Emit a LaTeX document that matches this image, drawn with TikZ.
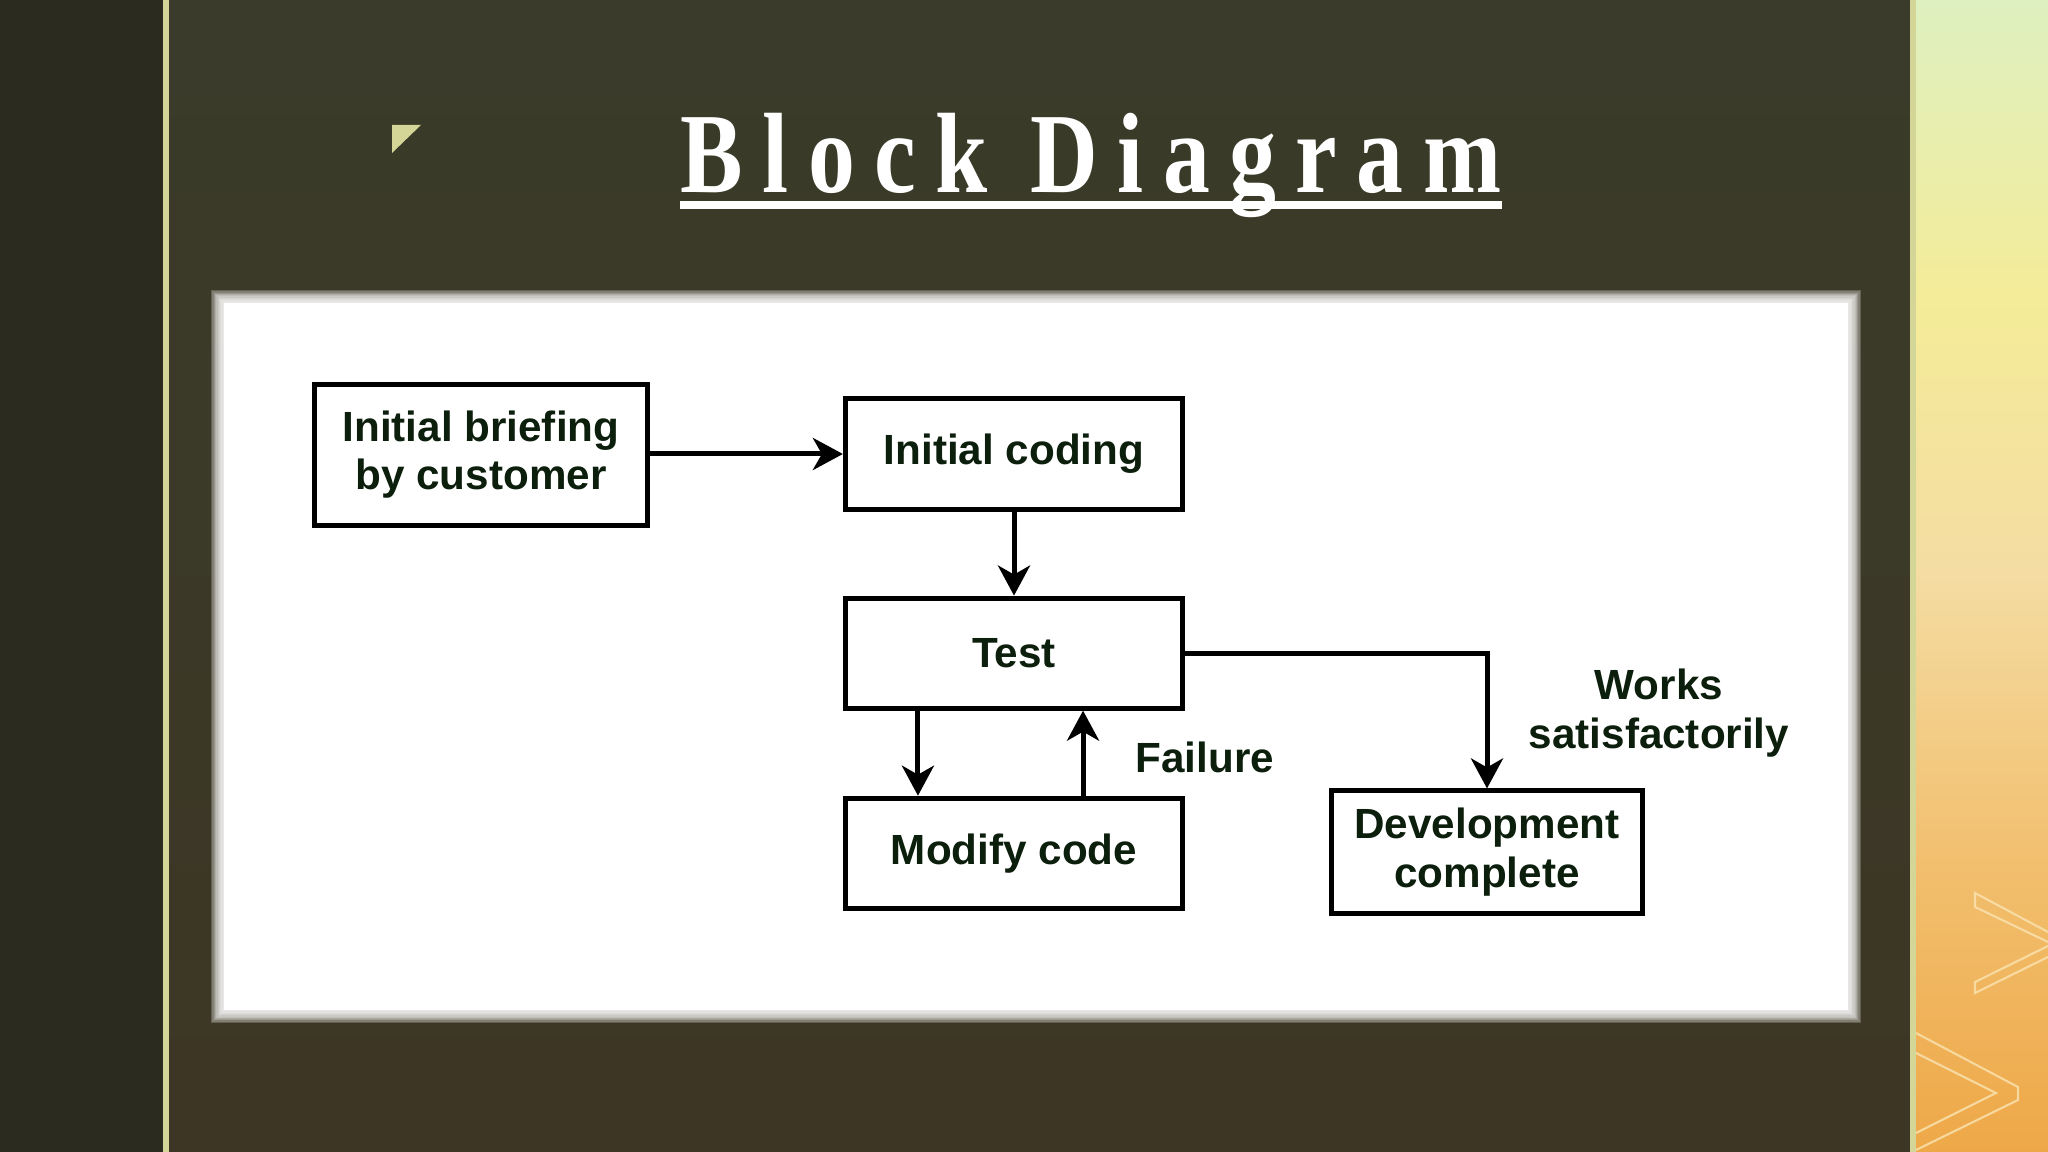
\documentclass[tikz,border=0pt]{standalone}
\usepackage{fontspec}
\setmainfont{Liberation Sans}
\newfontfamily\titlefont[FakeStretch=0.82,LetterSpace=17]{Liberation Serif}
\usepackage{xcolor}
\definecolor{bgtop}{RGB}{58,59,42}
\definecolor{bgbot}{RGB}{61,54,36}
\definecolor{bgleft}{RGB}{44,43,31}
\definecolor{accent}{RGB}{212,214,152}
\definecolor{bdtext}{RGB}{12,30,12}
\definecolor{gradA}{RGB}{222,240,192}
\definecolor{gradB}{RGB}{244,236,152}
\definecolor{gradC}{RGB}{244,220,162}
\definecolor{gradD}{RGB}{242,192,112}
\definecolor{gradE}{RGB}{238,168,72}
\definecolor{chevron}{RGB}{250,228,178}
\usetikzlibrary{arrows.meta,positioning}
\pgfdeclareverticalshading{sidegrad}{100bp}{color(0bp)=(gradE); color(25bp)=(gradE);
  color(38bp)=(gradD); color(50bp)=(gradC); color(62bp)=(gradB); color(75bp)=(gradA); color(100bp)=(gradA)}

\begin{document}
\begin{tikzpicture}[x=0.01cm,y=-0.01cm,>={Stealth[length=0.3cm,width=0.32cm,inset=0.09cm]},
  block/.style={draw=black,line width=0.05cm,fill=white,minimum width=3.37cm,minimum height=1.1cm,
                align=center,inner sep=0pt,font=\fontsize{12}{13.7}\selectfont\bfseries,text=bdtext},
  flow/.style={->,line width=0.05cm},
  lbl/.style={align=center,inner sep=0pt,font=\fontsize{12}{13.7}\selectfont\bfseries,text=bdtext}]
  \useasboundingbox (0,0) rectangle (2048,1152);
  %% Slide background
  \fill[top color=bgtop,bottom color=bgbot] (0,0) rectangle (2048,1152);
  \fill[bgleft] (0,0) rectangle (163,1152);
  \fill[accent] (163,0) rectangle (169,1152);
  \fill[shading=sidegrad] (1916,0) rectangle (2048,1152);
  \fill[accent] (1910,0) rectangle (1916,1152);
  \draw[chevron,line width=0.6pt,opacity=0.8] (2048,932) -- (1975,893) -- (1975,907) -- (2048,942);
  \draw[chevron,line width=0.6pt,opacity=0.8] (2048,946) -- (1975,982) -- (1975,993) -- (2048,957);
  \draw[chevron,line width=0.6pt,opacity=0.8] (1916,1033) -- (2018,1087) -- (2018,1100) -- (1916,1150);
  \draw[chevron,line width=0.6pt,opacity=0.8] (1916,1053) -- (1996,1093) -- (1916,1133);
  %% Title
  \fill[accent] (392,125) -- (421,125) -- (392,153) -- cycle;
  \node[anchor=base,inner sep=0pt,text=white,font=\titlefont\fontsize{32.5}{36}\selectfont\bfseries]
        (title) at (1091,193) {Block Diagram};
  \draw[white,line width=0.07cm] ([yshift=-0.12cm]title.base west) -- ([yshift=-0.12cm]title.base east);
  %% White panel with soft edge
  \foreach \d in {1,...,10}
    \fill[white,opacity=0.2] (224-1.3*\d,303-1.3*\d) rectangle (1848+1.3*\d,1010+1.3*\d);
  \fill[white] (224,303) rectangle (1848,1010);
  %% Blocks
  \node[block,minimum width=3.32cm,minimum height=1.41cm] (brief) at (481,455) {Initial briefing\\by customer};
  \node[block] (coding) at (1014,454) {Initial coding};
  \node[block,below=0.84cm of coding] (test) {Test};
  \node[block,below=0.85cm of test] (modify) {Modify code};
  \node[block,minimum width=3.11cm,minimum height=1.22cm] (dev) at (1487,852) {Development\\complete};
  %% Arrows
  \draw[flow] (brief.east |- coding.west) -- (coding.west);
  \draw[flow] (coding) -- (test);
  \draw[flow] ([xshift=-0.96cm]test.south) -- ([xshift=-0.96cm]modify.north);
  \draw[flow] ([xshift=0.69cm]modify.north) -- ([xshift=0.69cm]test.south);
  \draw[flow] (test.east) -| (dev.north);
  %% Edge labels
  \node[lbl,anchor=west] (fail) at (1135,757) {Failure};
  \node[lbl] (works) at (1659,713) {Works\\satisfactorily};
\end{tikzpicture}
\end{document}
